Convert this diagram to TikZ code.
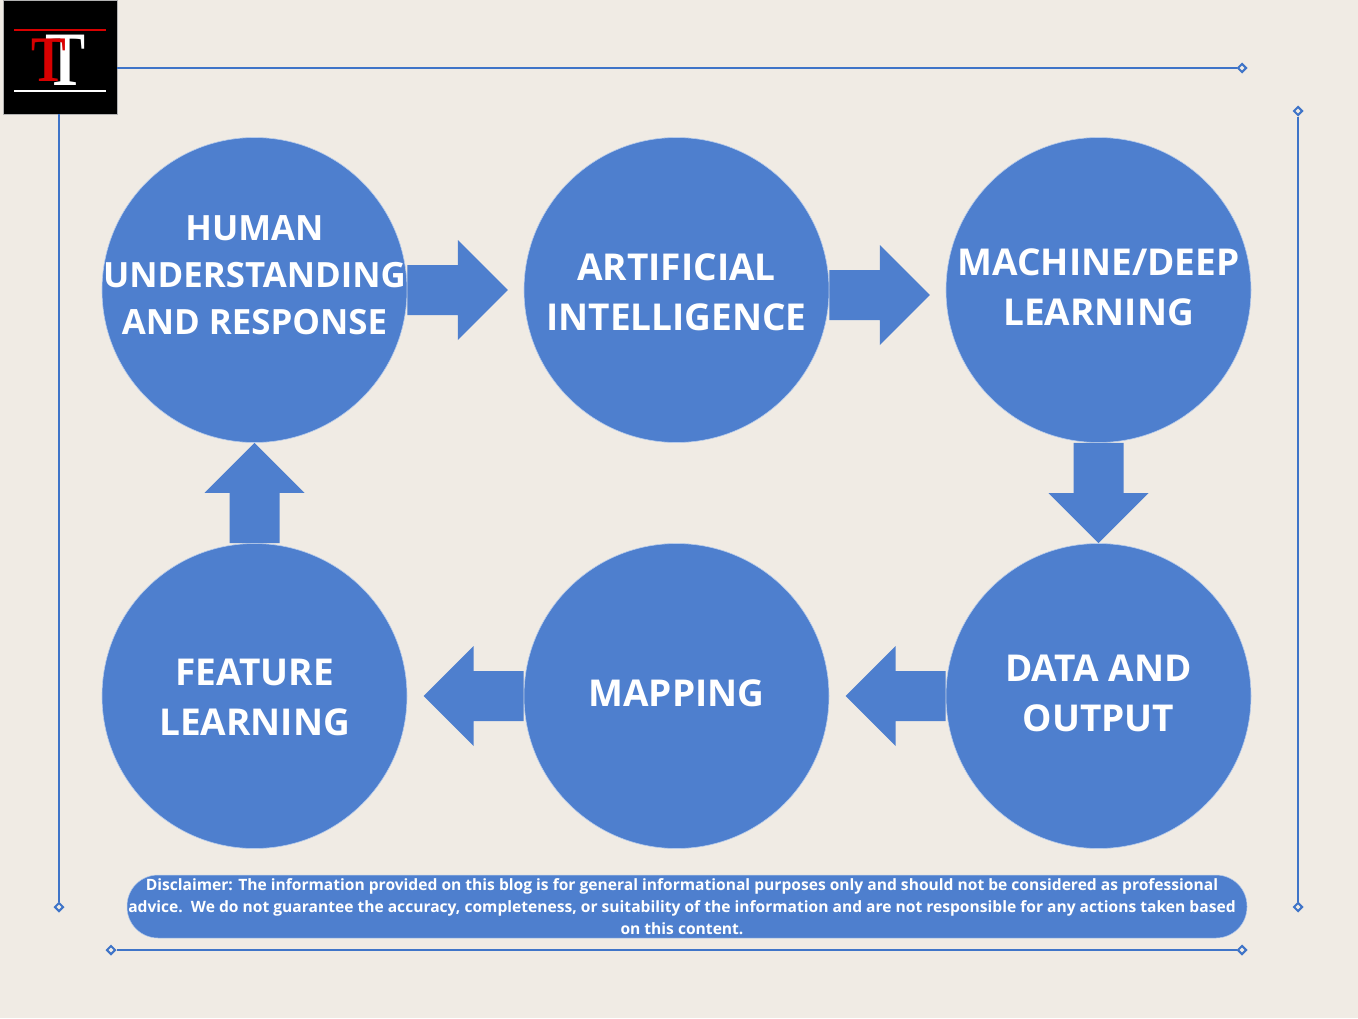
\documentclass[tikz,border=0pt]{standalone}
\usepackage{fontspec}
\setmainfont{Open Sans}
\newfontfamily\logofont{Liberation Serif}
\usetikzlibrary{calc,shapes.geometric}
\definecolor{bgc}{HTML}{F0EBE4}
\definecolor{bluec}{HTML}{4E7FCE}
\definecolor{linec}{HTML}{3F74C8}
\definecolor{logored}{HTML}{D90000}
\tikzset{
  bubble/.style={circle,fill=bluec,draw=white!60!bluec,line width=.6pt,minimum size=305pt,inner sep=0pt},
  bubbletext/.style={text=white,align=center,inner sep=0pt,font=\fontsize{37}{50}\selectfont\bfseries},
  endmark/.style={diamond,draw=linec,fill=bgc,line width=2pt,minimum size=9pt,inner sep=0pt},
  rule/.style={draw=linec,line width=2.6pt},
  blockfill/.style={fill=bluec}
}
\newcommand{\blockarr}[2]{%
  \coordinate (h) at ($(#2)!50pt!(#1)$);
  \path[blockfill] ($(#1)!25pt!90:(#2)$) -- ($(h)!25pt!90:(#2)$) -- ($(h)!50pt!90:(#2)$) -- (#2)
    -- ($(h)!50pt!-90:(#2)$) -- ($(h)!25pt!-90:(#2)$) -- ($(#1)!25pt!-90:(#2)$) -- cycle;
}
\begin{document}
\begin{tikzpicture}[x=1pt,y=-1pt]
\useasboundingbox[fill=bgc] (0,0) rectangle (1358,1018);
% logo
\node[fill=black,minimum width=114pt,minimum height=114pt,inner sep=0pt,draw=white!70!black,line width=.5pt] (logo) at (60,57) {};
% frame rules
\node[endmark] (tr) at (1242,68) {};
\node[endmark] (rt) at (1298,111) {};
\node[endmark] (rb) at (1298,907) {};
\node[endmark] (lb) at (59,907) {};
\node[endmark] (bl) at (111,950) {};
\node[endmark] (br) at (1242,950) {};
\coordinate (logoR) at (117,68);
\coordinate (logoB) at (59,114);
\draw[rule] (logoR) -- (tr);
\draw[rule] (logoB) -- (lb);
\draw[rule] (rt) -- (rb);
\draw[rule] (bl) -- (br);
\draw[draw=logored,line width=1.5pt] (14,30) -- (106,30);
\draw[draw=white,line width=1.5pt] (14,91) -- (106,91);
\node[text=white,inner sep=0pt,xscale=.78,font=\fontsize{77}{77}\selectfont\logofont\bfseries] (tw) at (66,60.5) {T};
\node[text=logored,inner sep=0pt,xscale=.8,font=\fontsize{65}{65}\selectfont\logofont\bfseries] (tr2) at (48.5,60.5) {T};
% circles
\node[bubble] (c1) at (254.5,290) {};
\node[bubble] (c2) at (676.5,290) {};
\node[bubble] (c3) at (1098.5,290) {};
\node[bubble] (c4) at (254.5,696) {};
\node[bubble] (c5) at (676.5,696) {};
\node[bubble] (c6) at (1098.5,696) {};
\node[bubbletext,font=\fontsize{34.8}{47}\selectfont\bfseries] (t1) at (254.5,275) {HUMAN\\UNDERSTANDING\\AND RESPONSE};
\node[bubbletext] (t2) at (676.5,292) {ARTIFICIAL\\INTELLIGENCE};
\node[bubbletext] (t3) at (1098.5,287) {MACHINE/DEEP\\LEARNING};
\node[bubbletext] (t4) at (254.5,697) {FEATURE\\LEARNING};
\node[bubbletext] (t5) at (676.5,693) {MAPPING};
\node[bubbletext] (t6) at (1098.5,693) {DATA AND\\OUTPUT};
% arrows
\coordinate (a1e) at ($(c1.east)+(100.5,0)$);
\blockarr{c1.east}{a1e}
\coordinate (a2s) at ($(c2.east)+(0,5)$); \coordinate (a2e) at ($(c2.east)+(100.5,5)$);
\blockarr{a2s}{a2e}
\blockarr{c3.south}{c6.north}
\coordinate (a4e) at ($(c5.west)+(-100,0)$);
\blockarr{c5.west}{a4e}
\coordinate (a5e) at ($(c6.west)+(-100,0)$);
\blockarr{c6.west}{a5e}
\blockarr{c4.north}{c1.south}
% disclaimer
\node[fill=bluec,draw=white!60!bluec,line width=.5pt,rounded corners=31pt,minimum width=1120pt,minimum height=63pt,inner sep=0pt] (pill) at (687,906.5) {};
\node[text=white,align=center,inner sep=0pt,font=\fontsize{15.6}{22}\selectfont\bfseries] (disc) at (682,907) {Disclaimer: The information provided on this blog is for general informational purposes only and should not be considered as professional\\advice.\ \ We do not guarantee the accuracy, completeness, or suitability of the information and are not responsible for any actions taken based\\on this content.};
\end{tikzpicture}
\end{document}
